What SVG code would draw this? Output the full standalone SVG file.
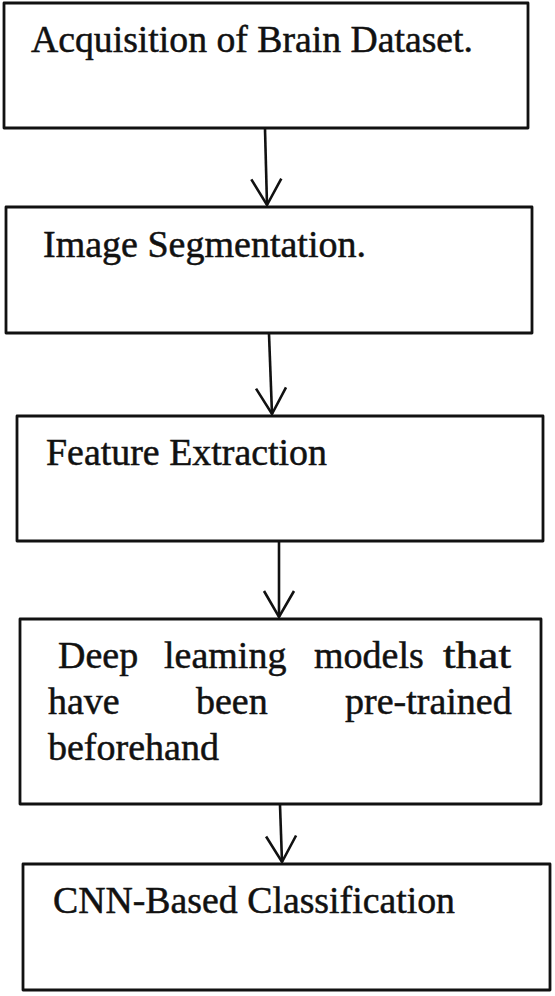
<svg xmlns="http://www.w3.org/2000/svg" width="555" height="996" viewBox="0 0 555 996">
  <style>
    .box { fill: #ffffff; stroke: #111111; stroke-width: 2.8; stroke-linejoin: round; }
    .lbl { font-family: "Liberation Serif", "Times New Roman", serif; font-size: 38px; fill: #111111; stroke: #111111; stroke-width: 0.5; }
    .conn { stroke: #111111; stroke-width: 2.6; fill: none; }
  </style>
  <defs>
    <marker id="chev" viewBox="-30 -18 33 36" refX="0" refY="0" markerWidth="33" markerHeight="36" markerUnits="userSpaceOnUse" orient="auto">
      <path d="M-26,-15 L0,0 L-26,15" fill="none" stroke="#111111" stroke-width="2.6" stroke-linejoin="miter"/>
    </marker>
  </defs>
  <rect width="555" height="996" fill="#ffffff"/>

  <g id="node-acquisition">
    <rect class="box" x="4" y="3" width="524" height="125"/>
    <text class="lbl" x="31" y="52" textLength="442" lengthAdjust="spacingAndGlyphs">Acquisition of Brain Dataset.</text>
  </g>

  <g id="node-segmentation">
    <rect class="box" x="6" y="207" width="526" height="126"/>
    <text class="lbl" x="43" y="257" textLength="323" lengthAdjust="spacingAndGlyphs">Image Segmentation.</text>
  </g>

  <g id="node-feature">
    <rect class="box" x="17" y="416" width="526" height="125"/>
    <text class="lbl" x="46" y="465" textLength="281" lengthAdjust="spacingAndGlyphs">Feature Extraction</text>
  </g>

  <g id="node-pretrained">
    <rect class="box" x="20" y="619" width="521" height="185"/>
    <text class="lbl" y="668"><tspan x="58">Deep</tspan> <tspan x="164">leaming</tspan> <tspan x="314">models</tspan> <tspan x="443" textLength="68" lengthAdjust="spacingAndGlyphs">that</tspan></text>
    <text class="lbl" y="714"><tspan x="48">have</tspan> <tspan x="196">been</tspan> <tspan x="345">pre-trained</tspan></text>
    <text class="lbl" x="48" y="760">beforehand</text>
  </g>

  <g id="node-cnn">
    <rect class="box" x="23" y="864" width="527" height="126"/>
    <text class="lbl" x="53" y="913" textLength="402" lengthAdjust="spacingAndGlyphs">CNN-Based Classification</text>
  </g>

  <g id="connectors">
    <line class="conn" x1="265" y1="129" x2="267" y2="205" marker-end="url(#chev)"/>
    <line class="conn" x1="269" y1="334" x2="272" y2="414" marker-end="url(#chev)"/>
    <line class="conn" x1="279" y1="542" x2="279" y2="617" marker-end="url(#chev)"/>
    <line class="conn" x1="280" y1="805" x2="282" y2="862" marker-end="url(#chev)"/>
  </g>
</svg>
